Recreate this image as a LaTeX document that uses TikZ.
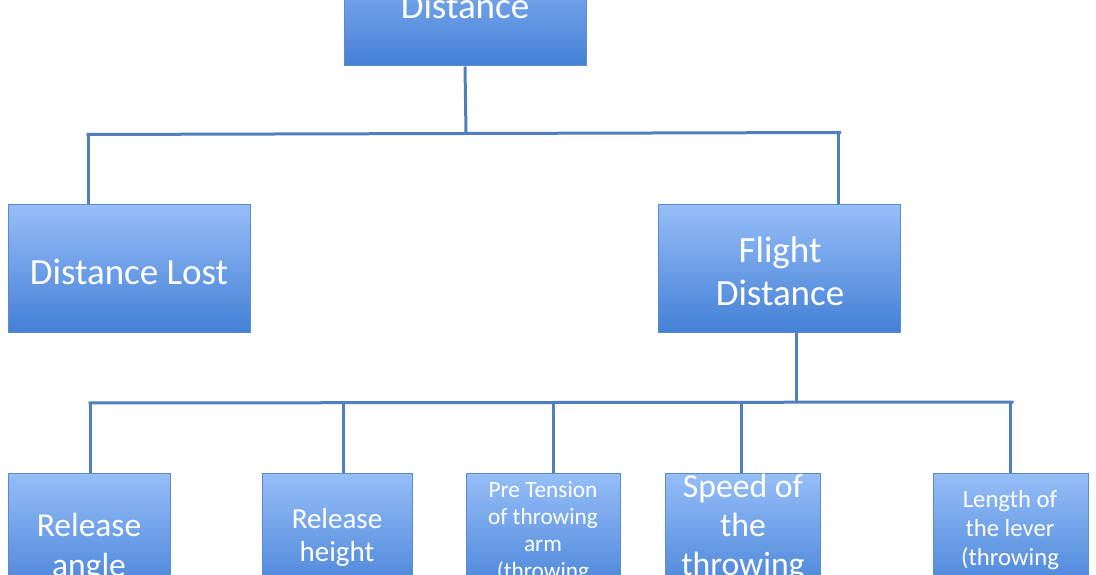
\documentclass[tikz,border=0pt]{standalone}
\usepackage{fontspec}
\setmainfont{Carlito}
\definecolor{topc}{HTML}{96BEF8}
\definecolor{botc}{HTML}{4480D6}
\definecolor{edgec}{HTML}{5A8BCB}
\definecolor{linec}{HTML}{4F7FBD}
\tikzset{
  box/.style={draw=edgec, line width=1pt, top color=topc, bottom color=botc, inner sep=0pt},
  lbl/.style={text=white, align=center, inner sep=0pt},
  conn/.style={draw=linec, line width=3pt}
}
\begin{document}
\begin{tikzpicture}[x=1pt,y=-1pt]
\useasboundingbox (0,0) rectangle (1096,575);
\clip (0,0) rectangle (1096,575);
% boxes
\node[box, minimum width=242pt, minimum height=124pt] (top) at (465,4) {};
\node[box, minimum width=242pt, minimum height=127pt] (lost) at (129,268.5) {};
\node[box, minimum width=242pt, minimum height=127pt] (flight) at (779,268.5) {};
\node[box, minimum width=162pt, minimum height=127pt] (b1) at (89,536.5) {};
\node[box, minimum width=150pt, minimum height=127pt] (b2) at (337,536.5) {};
\node[box, minimum width=154pt, minimum height=127pt] (b3) at (543,536.5) {};
\node[box, minimum width=155pt, minimum height=127pt] (b4) at (742.5,536.5) {};
\node[box, minimum width=155pt, minimum height=127pt] (b5) at (1010.5,536.5) {};
% labels
\node[lbl, font=\fontsize{37}{40}\selectfont] (tt) at (465,6) {Distance};
\node[lbl, font=\fontsize{37}{40}\selectfont] (lt) at (129,272) {Distance Lost};
\node[lbl, font=\fontsize{37}{43}\selectfont] (ft) at (780,271.5) {Flight\\Distance};
\node[lbl, font=\fontsize{33.5}{40}\selectfont] (t1) at (89,548) {Release\\angle};
\node[lbl, font=\fontsize{29}{33}\selectfont] (t2) at (337,537.5) {Release\\height};
\node[lbl, font=\fontsize{23.3}{26.7}\selectfont] (t3) at (543,532) {Pre Tension\\of throwing\\arm\\(throwing};
\node[lbl, font=\fontsize{33.7}{39}\selectfont] (t4) at (743,527.5) {Speed of\\the\\throwing};
\node[lbl, font=\fontsize{24.7}{29}\selectfont] (t5) at (1010,530) {Length of\\the lever\\(throwing};
% connectors
\coordinate (h1) at (466,133);
\coordinate (h1l) at (88,134);
\coordinate (h1r) at (838,133);
\draw[conn] (top.south) -- (h1);
\draw[conn] (86.5,134.5) -- (841,132.5);
\draw[conn] (h1l) -- (lost.north -| h1l);
\draw[conn] (h1r) -- (flight.north -| h1r);
\coordinate (h2) at (796,402);
\draw[conn] (flight.south -| h2) -- (h2);
\draw[conn] (88.5,403) -- (1013.5,402);
\foreach \x/\b in {90/b1,343/b2,553/b3,741/b4,1010/b5}{
  \draw[conn] (\x,402.5) -- (\b.north -| {(\x,0)});
}
\end{tikzpicture}
\end{document}
